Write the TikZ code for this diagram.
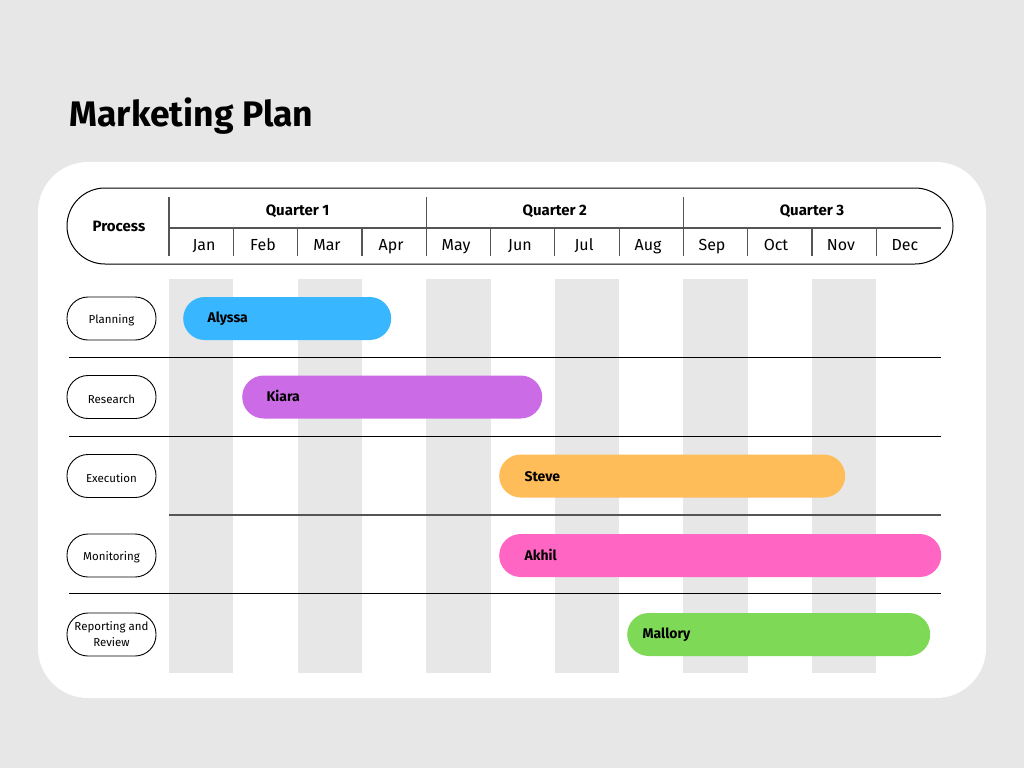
\documentclass[tikz,border=0pt]{standalone}
\usepackage{fontspec}
\setmainfont{Fira Sans}
\usetikzlibrary{calc}
\definecolor{bgc}{HTML}{E7E7E7}
\definecolor{stripec}{HTML}{E7E7E7}
\definecolor{sepc}{HTML}{555555}
\definecolor{cblue}{HTML}{38B6FF}
\definecolor{cpurple}{HTML}{CB6CE6}
\definecolor{corange}{HTML}{FFBD59}
\definecolor{cpink}{HTML}{FF66C4}
\definecolor{cgreen}{HTML}{7ED957}
\begin{document}
\begin{tikzpicture}[x=1pt,y=-1pt,
  title/.style={anchor=base west, font=\bfseries\fontsize{35.5}{40}\selectfont},
  qlabel/.style={anchor=base, font=\bfseries\fontsize{15}{18}\selectfont},
  mlabel/.style={anchor=base, font=\fontsize{16}{18}\selectfont},
  sepline/.style={draw=sepc, line width=1.2pt},
  rowline/.style={draw=black, line width=0.9pt},
  rowpill/.style={draw=black, line width=0.9pt, rounded corners=21pt, minimum width=89pt, minimum height=43pt, inner sep=0pt, align=center, font=\fontsize{11.5}{16}\selectfont},
  rowtext/.style={align=center, font=\fontsize{11.5}{16}\selectfont},
  bar/.style={rounded corners=21.5pt, minimum height=43pt, inner sep=0pt, anchor=west},
  barname/.style={anchor=base west, font=\bfseries\fontsize{14}{16}\selectfont}
]
\useasboundingbox (0,0) rectangle (1024,768);
\fill[bgc] (0,0) rectangle (1024,768);
\fill[white, rounded corners=50pt] (38,162) rectangle (986,698);
\node[title] (title) at (66,126) {Marketing Plan};
% stripes
\foreach \a in {169,297.6,426.2,554.8,683.4,812}
  \fill[stripec] (\a,279) rectangle ++(64.3,394);
% header
\node[draw=black, line width=1pt, rounded corners=38pt, minimum width=886pt, minimum height=76pt, inner sep=0pt] (hdr) at (510,226) {};
\node[anchor=base, font=\bfseries\fontsize{15}{18}\selectfont] (process) at (119,231) {Process};
\draw[sepline] (169,197) -- (169,256);
\draw[sepline] (426.2,197) -- (426.2,256);
\draw[sepline] (683.4,197) -- (683.4,256);
\draw[sepline] (169,228) -- (941,228);
\foreach \x in {233.3,297.6,361.9,490.5,554.8,619.1,747.7,812,876.3}
  \draw[sepline] (\x,228) -- (\x,256);
\node[qlabel] (q1) at (297.6,215) {Quarter 1};
\node[qlabel] (q2) at (554.8,215) {Quarter 2};
\node[qlabel] (q3) at (812,215) {Quarter 3};
\foreach \m/\x [count=\i from 0] in {Jan/204,Feb/263,Mar/327,Apr/391,May/456,Jun/520,Jul/584,Aug/648,Sep/712,Oct/776,Nov/841,Dec/905}
  \node[mlabel] (m\i) at (\x,250) {\m};
% row lines
\draw[rowline] (69,357) -- (941,357);
\draw[rowline] (69,436) -- (941,436);
\draw[sepline] (169,515) -- (941,515);
\draw[rowline] (69,593) -- (941,593);
% row pills
\node[rowpill] (planning) at (111.5,318.5) {};
\node[rowtext] at ($(planning)+(0,2)$) {Planning};
\node[rowpill] (research) at (111.5,397) {};
\node[rowtext] at ($(research)+(0,2)$) {Research};
\node[rowpill] (execution) at (111.5,476) {};
\node[rowtext] at ($(execution)+(0,2)$) {Execution};
\node[rowpill] (monitoring) at (111.5,555.5) {};
\node[rowtext] at ($(monitoring)+(0,2)$) {Monitoring};
\node[rowpill] (reporting) at (111.5,634.5) {};
\node[rowtext] at ($(reporting)+(0,0)$) {Reporting and\\Review};
% bars
\node[bar, fill=cblue, minimum width=208pt] (alyssa) at (183,318.5) {};
\node[barname] (alyssat) at ($(alyssa.west)+(21,4)$) {Alyssa};
\node[bar, fill=cpurple, minimum width=300pt] (kiara) at (242,397) {};
\node[barname] (kiarat) at ($(kiara.west)+(21,4.5)$) {Kiara};
\node[bar, fill=corange, minimum width=346pt] (steve) at (499,476) {};
\node[barname] (stevet) at ($(steve.west)+(22,5)$) {Steve};
\node[bar, fill=cpink, minimum width=442pt] (akhil) at (499,555.5) {};
\node[barname] (akhilt) at ($(akhil.west)+(22,5)$) {Akhil};
\node[bar, fill=cgreen, minimum width=303pt] (mallory) at (627,634.5) {};
\node[barname] (malloryt) at ($(mallory.west)+(12,4)$) {Mallory};
\end{tikzpicture}
\end{document}
